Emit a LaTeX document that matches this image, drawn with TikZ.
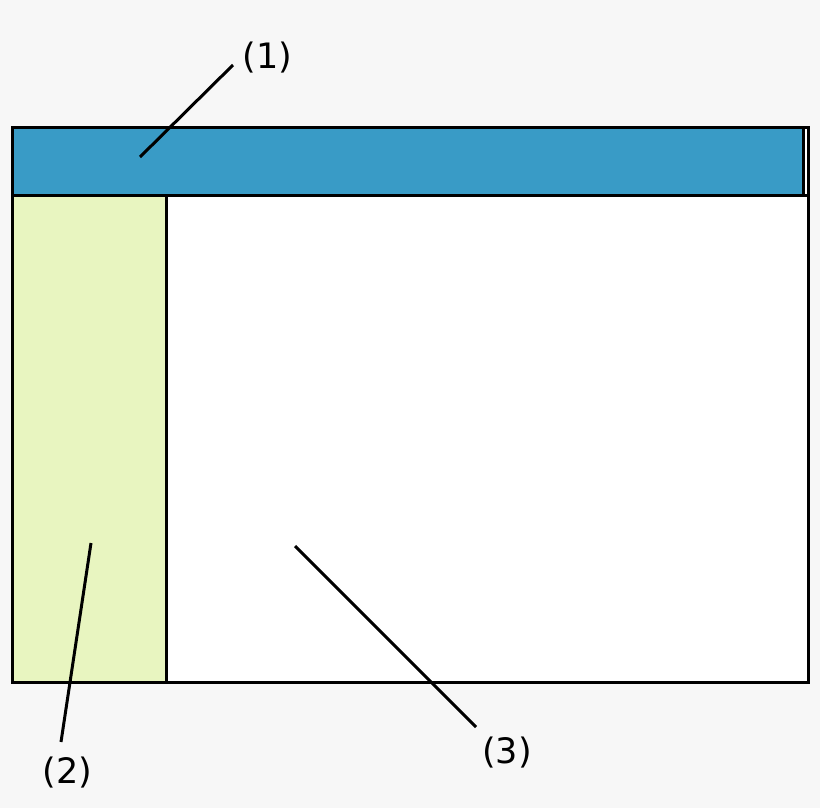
\documentclass[tikz,border=0pt]{standalone}
\usepackage{fontspec}
\setmainfont{DejaVu Sans}
\definecolor{pagegray}{HTML}{F7F7F7}
\definecolor{headblue}{HTML}{399BC6}
\definecolor{sidegreen}{HTML}{E8F5C0}
\begin{document}
\begin{tikzpicture}[x=1pt,y=-1pt,line width=3pt,
  lbl/.style={inner sep=0pt,font=\fontsize{35}{42}\selectfont}]
  \fill[pagegray] (0,0) rectangle (820,808);
  \useasboundingbox (0,0) rectangle (820,808);
  \draw[fill=white] (12,127) rectangle (808,682);
  \draw[fill=headblue] (12,127) rectangle (803.5,195);
  \draw[fill=sidegreen] (12,195) rectangle (166,682);
  \draw (12,195) -- (808,195);
  \draw (12,127) rectangle (808,682);
  \node[lbl] (L1) at (267.5,57.5) {(1)};
  \node[lbl] (L2) at (67.5,772.5) {(2)};
  \node[lbl] (L3) at (507,752.5) {(3)};
  \coordinate (P1) at (140,157);
  \coordinate (P2) at (91,543);
  \coordinate (P3) at (295,546);
  \coordinate (T1) at (233,65);
  \coordinate (T2) at (61,742);
  \coordinate (T3) at (476,727);
  \draw (P1) -- (T1);
  \draw (P2) -- (T2);
  \draw (P3) -- (T3);
\end{tikzpicture}
\end{document}
